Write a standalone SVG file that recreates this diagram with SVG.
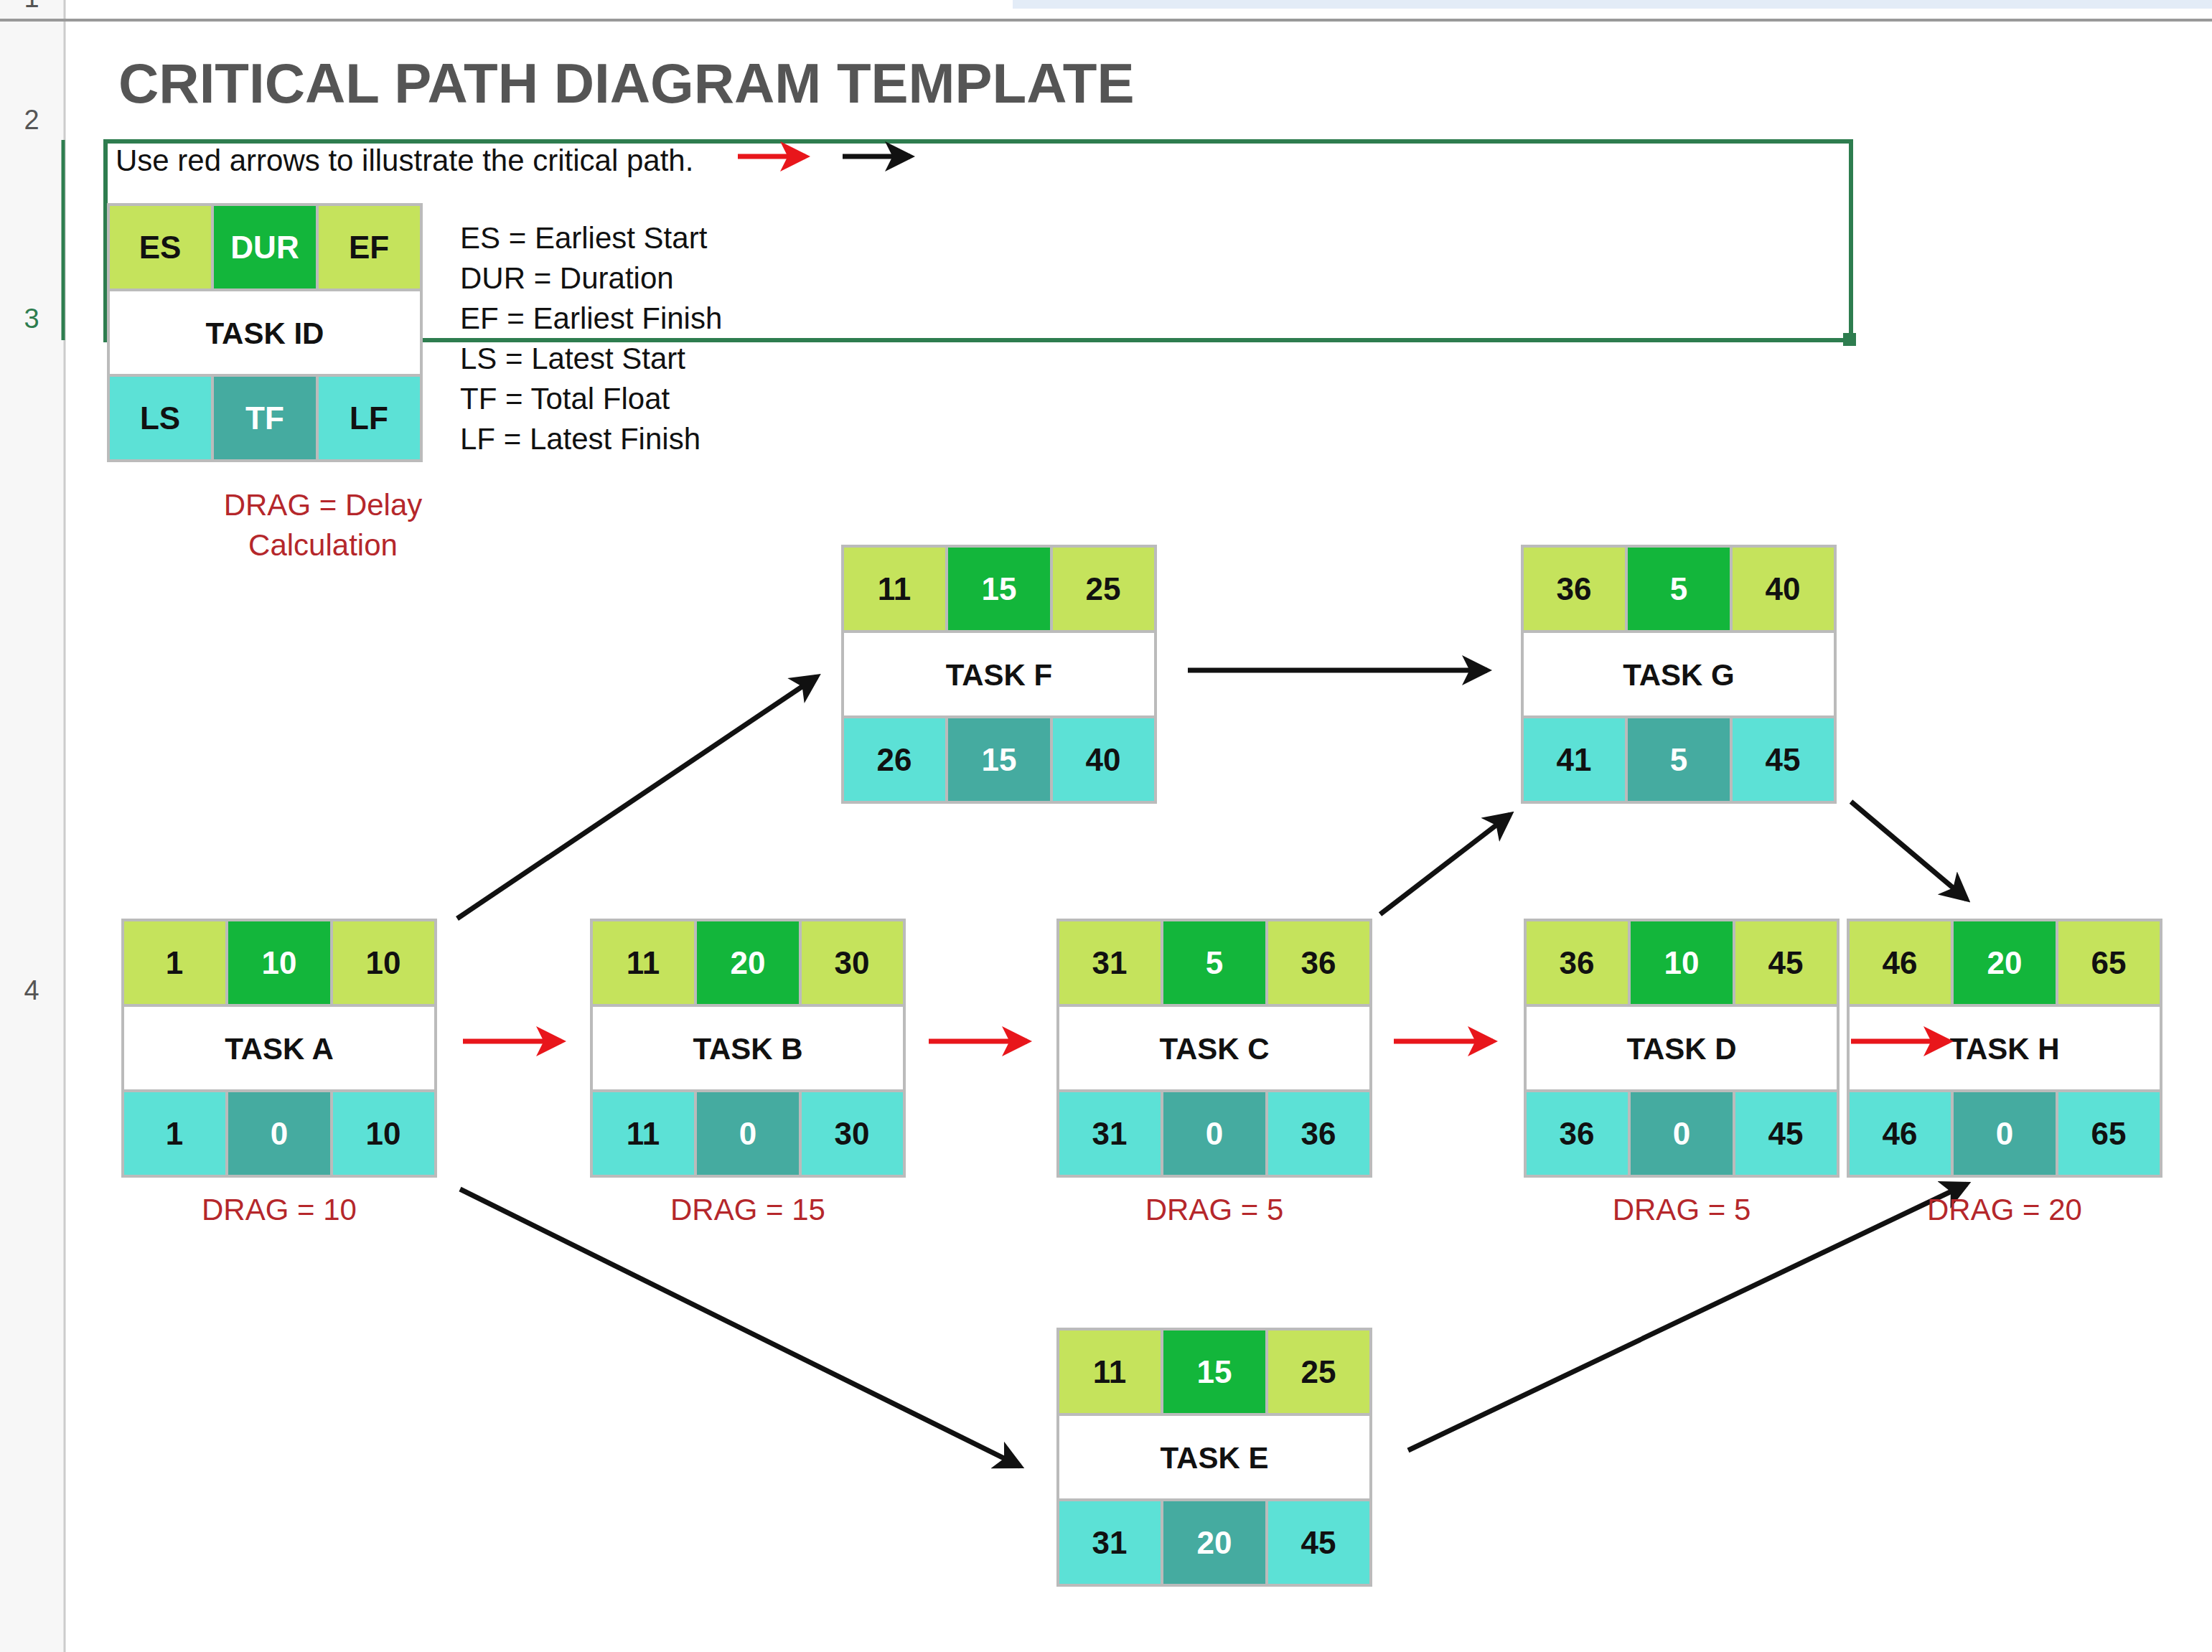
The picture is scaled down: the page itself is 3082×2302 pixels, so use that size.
<svg xmlns="http://www.w3.org/2000/svg" width="3082" height="2302" viewBox="0 0 3082 2302">
<defs>
<marker id="ab" markerWidth="6" markerHeight="6" refX="5" refY="3" orient="auto" markerUnits="strokeWidth"><path d="M0,0 L6,3 L0,6 L1.5,3 Z" fill="#111"/></marker>
<marker id="ar" markerWidth="6" markerHeight="6" refX="5" refY="3" orient="auto" markerUnits="strokeWidth"><path d="M0,0 L6,3 L0,6 L1.5,3 Z" fill="#e8161b"/></marker>
<g id="cells">
<rect x="0" y="0" width="145" height="119" fill="#c5e35c"/>
<rect x="145" y="0" width="146" height="119" fill="#13b63b"/>
<rect x="291" y="0" width="145" height="119" fill="#c5e35c"/>
<rect x="0" y="119" width="436" height="119" fill="#fff"/>
<rect x="0" y="238" width="145" height="119" fill="#5ce1d6"/>
<rect x="145" y="238" width="146" height="119" fill="#45aba0"/>
<rect x="291" y="238" width="145" height="119" fill="#5ce1d6"/>
<rect x="0" y="0" width="436" height="357" fill="none" stroke="#bbb" stroke-width="4"/>
<path d="M145,0V119M291,0V119M145,238V357M291,238V357M0,119H436M0,238H436" stroke="#bbb" stroke-width="4"/>
</g>
</defs>
<style>
.n{font-family:"Liberation Sans",Arial,sans-serif;font-weight:bold;font-size:44px;text-anchor:middle;fill:#111}
.w{fill:#fff}
.t{font-family:"Liberation Sans",Arial,sans-serif;font-weight:bold;font-size:42px;text-anchor:middle;fill:#111}
.d{font-family:"Liberation Sans",Arial,sans-serif;font-size:42px;text-anchor:middle;fill:#b5272b}
.l{font-family:"Liberation Sans",Arial,sans-serif;font-size:42px;fill:#111}
.cb{stroke:#111;stroke-width:7;fill:none;marker-end:url(#ab)}
.cr{stroke:#e8161b;stroke-width:7;fill:none;marker-end:url(#ar)}
</style>
<rect width="3082" height="2302" fill="#fff"/>
<rect x="0" y="0" width="90" height="2302" fill="#f7f7f7"/>
<line x1="90" y1="0" x2="90" y2="2302" stroke="#ccc" stroke-width="3"/>
<line x1="0" y1="28" x2="3082" y2="28" stroke="#999" stroke-width="4"/>
<rect x="1411" y="0" width="1671" height="12" fill="#e3ecf7"/>
<line x1="88" y1="195" x2="88" y2="474" stroke="#2e7d4f" stroke-width="5"/>
<g font-family="Liberation Sans,Arial,sans-serif" font-size="38" fill="#555" text-anchor="middle">
<text x="44" y="10">1</text><text x="44" y="180">2</text><text x="44" y="457" fill="#2e7d4f">3</text><text x="44" y="1393">4</text>
</g>
<text x="165" y="143" font-family="Liberation Sans,Arial,sans-serif" font-weight="bold" font-size="78" fill="#555">CRITICAL PATH DIAGRAM TEMPLATE</text>
<rect x="147" y="197" width="2432" height="277" fill="none" stroke="#2e7d4f" stroke-width="6"/>
<rect x="2568" y="464" width="18" height="18" fill="#2e7d4f"/>
<text x="161" y="238" class="l" font-size="40">Use red arrows to illustrate the critical path.</text>
<g id="connectors">
<line class="cr" x1="1028" y1="218" x2="1122" y2="218"/>
<line class="cb" x1="1174" y1="218" x2="1268" y2="218"/>
<line class="cb" x1="637" y1="1280" x2="1138" y2="943"/>
<line class="cb" x1="1655" y1="934" x2="2072" y2="934"/>
<line class="cb" x1="1923" y1="1274" x2="2104" y2="1135"/>
<line class="cb" x1="2579" y1="1117" x2="2740" y2="1253"/>
<line class="cr" x1="645" y1="1451" x2="782" y2="1451"/>
<line class="cr" x1="1294" y1="1451" x2="1431" y2="1451"/>
<line class="cr" x1="1942" y1="1451" x2="2080" y2="1451"/>
<line class="cb" x1="641" y1="1657" x2="1421" y2="2043"/>
<line class="cb" x1="1962" y1="2021" x2="2740" y2="1650"/>
</g>
<g id="legend" transform="translate(151,285)">
<use href="#cells"/>
<text x="72" y="75" class="n" font-size="42">ES</text><text x="218" y="75" class="n w" font-size="42">DUR</text><text x="363" y="75" class="n" font-size="42">EF</text>
<text x="218" y="194" class="t">TASK ID</text>
<text x="72" y="313" class="n" font-size="42">LS</text><text x="218" y="313" class="n w" font-size="42">TF</text><text x="363" y="313" class="n" font-size="42">LF</text>
</g>
<g class="l"><text x="641" y="346">ES = Earliest Start</text><text x="641" y="402">DUR = Duration</text><text x="641" y="458">EF = Earliest Finish</text><text x="641" y="514">LS = Latest Start</text><text x="641" y="570">TF = Total Float</text><text x="641" y="626">LF = Latest Finish</text></g>
<text x="450" y="718" class="d">DRAG = Delay</text><text x="450" y="774" class="d">Calculation</text>
<g id="taskA" transform="translate(171,1282)"><use href="#cells"/><text x="72" y="75" class="n">1</text><text x="218" y="75" class="n w">10</text><text x="363" y="75" class="n">10</text><text x="218" y="194" class="t">TASK A</text><text x="72" y="313" class="n">1</text><text x="218" y="313" class="n w">0</text><text x="363" y="313" class="n">10</text><text x="218" y="418" class="d">DRAG = 10</text></g>
<g id="taskB" transform="translate(824,1282)"><use href="#cells"/><text x="72" y="75" class="n">11</text><text x="218" y="75" class="n w">20</text><text x="363" y="75" class="n">30</text><text x="218" y="194" class="t">TASK B</text><text x="72" y="313" class="n">11</text><text x="218" y="313" class="n w">0</text><text x="363" y="313" class="n">30</text><text x="218" y="418" class="d">DRAG = 15</text></g>
<g id="taskC" transform="translate(1474,1282)"><use href="#cells"/><text x="72" y="75" class="n">31</text><text x="218" y="75" class="n w">5</text><text x="363" y="75" class="n">36</text><text x="218" y="194" class="t">TASK C</text><text x="72" y="313" class="n">31</text><text x="218" y="313" class="n w">0</text><text x="363" y="313" class="n">36</text><text x="218" y="418" class="d">DRAG = 5</text></g>
<g id="taskD" transform="translate(2125,1282)"><use href="#cells"/><text x="72" y="75" class="n">36</text><text x="218" y="75" class="n w">10</text><text x="363" y="75" class="n">45</text><text x="218" y="194" class="t">TASK D</text><text x="72" y="313" class="n">36</text><text x="218" y="313" class="n w">0</text><text x="363" y="313" class="n">45</text><text x="218" y="418" class="d">DRAG = 5</text></g>
<g id="taskH" transform="translate(2575,1282)"><use href="#cells"/><text x="72" y="75" class="n">46</text><text x="218" y="75" class="n w">20</text><text x="363" y="75" class="n">65</text><text x="218" y="194" class="t">TASK H</text><text x="72" y="313" class="n">46</text><text x="218" y="313" class="n w">0</text><text x="363" y="313" class="n">65</text><text x="218" y="418" class="d">DRAG = 20</text></g>
<g id="taskF" transform="translate(1174,761)"><use href="#cells"/><text x="72" y="75" class="n">11</text><text x="218" y="75" class="n w">15</text><text x="363" y="75" class="n">25</text><text x="218" y="194" class="t">TASK F</text><text x="72" y="313" class="n">26</text><text x="218" y="313" class="n w">15</text><text x="363" y="313" class="n">40</text></g>
<g id="taskG" transform="translate(2121,761)"><use href="#cells"/><text x="72" y="75" class="n">36</text><text x="218" y="75" class="n w">5</text><text x="363" y="75" class="n">40</text><text x="218" y="194" class="t">TASK G</text><text x="72" y="313" class="n">41</text><text x="218" y="313" class="n w">5</text><text x="363" y="313" class="n">45</text></g>
<g id="taskE" transform="translate(1474,1852)"><use href="#cells"/><text x="72" y="75" class="n">11</text><text x="218" y="75" class="n w">15</text><text x="363" y="75" class="n">25</text><text x="218" y="194" class="t">TASK E</text><text x="72" y="313" class="n">31</text><text x="218" y="313" class="n w">20</text><text x="363" y="313" class="n">45</text></g>
<g id="connectors-over">
<line class="cr" x1="2579" y1="1451" x2="2715" y2="1451"/>
</g>
</svg>
